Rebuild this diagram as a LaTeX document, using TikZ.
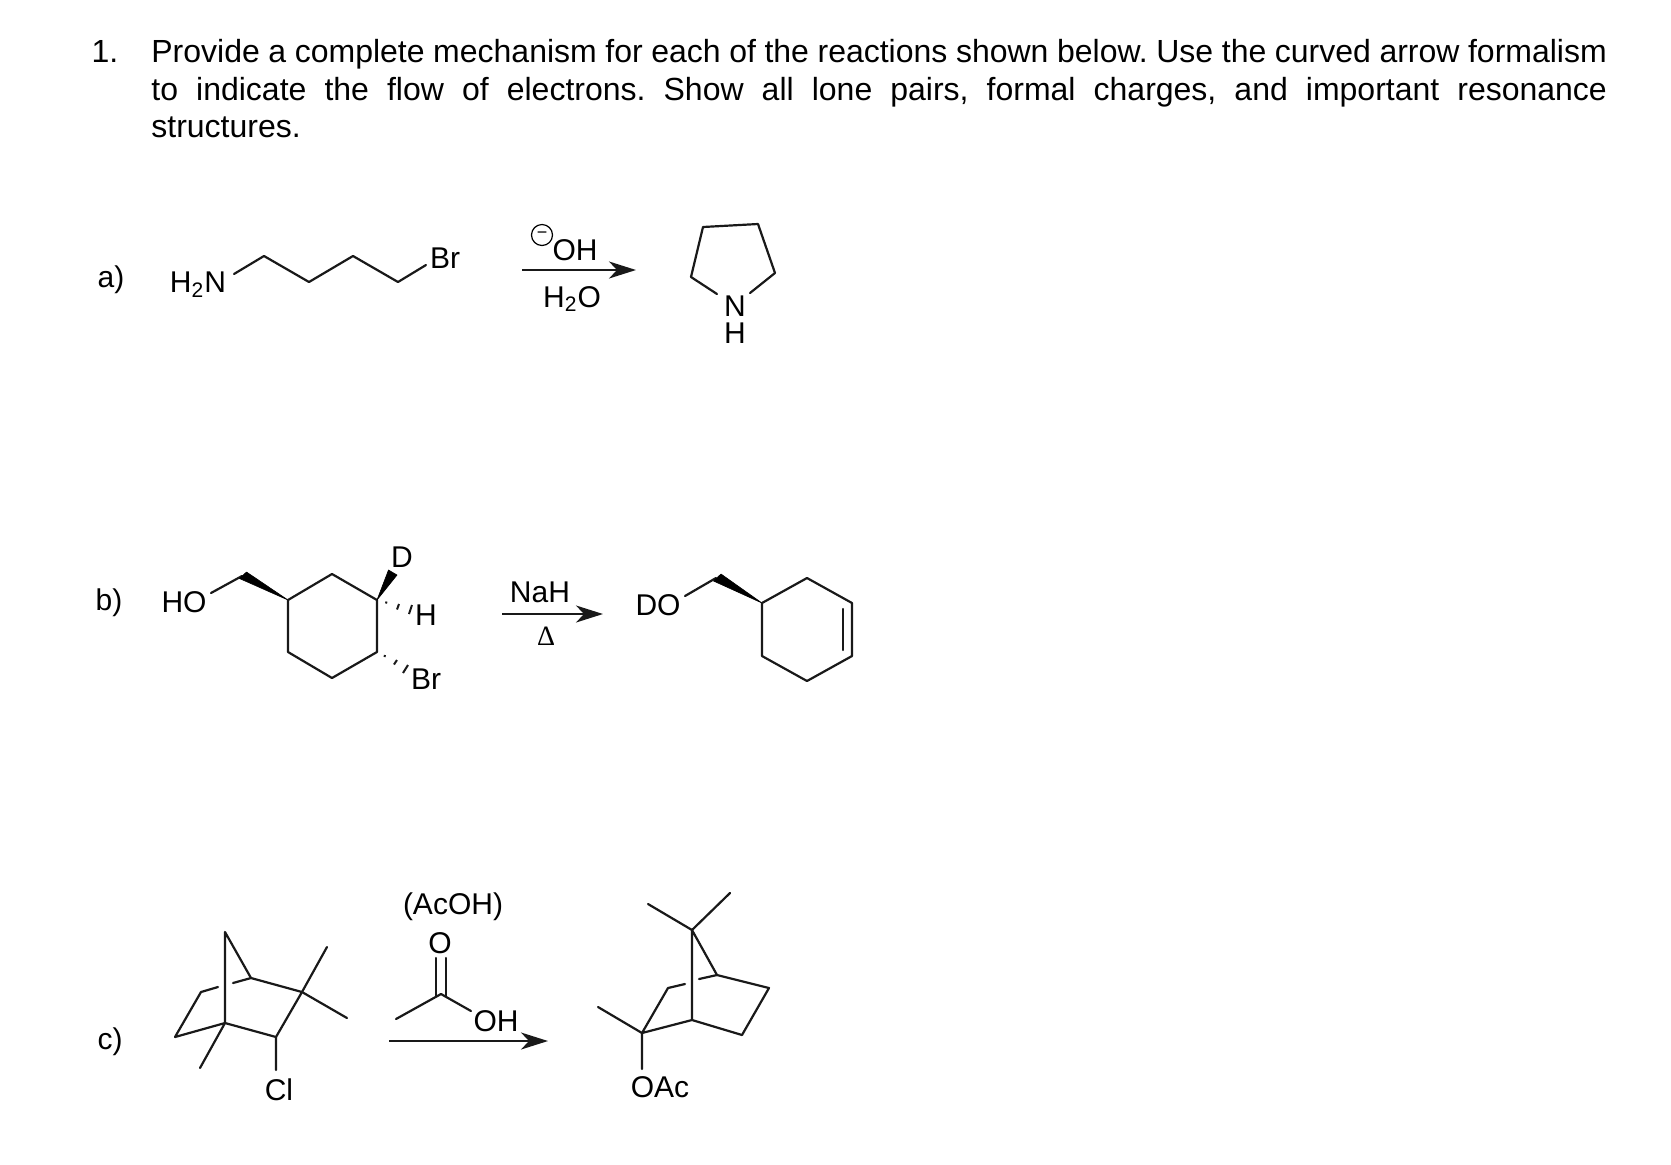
\documentclass[tikz,border=0pt]{standalone}
\usepackage{fontspec}
\setmainfont{Liberation Sans}
\newfontfamily\deltafont{Liberation Serif}
\usetikzlibrary{arrows.meta}
\tikzset{
  bond/.style={line width=1.1pt,line cap=round,line join=round,black!90},
  hashm/.style={line width=1pt,black!90},
  wedgeb/.style={fill=black,draw=black,line width=0.3pt,line join=round},
  rxn/.style={line width=1.1pt,black!90,-{Stealth[length=13.5pt,width=8.5pt,inset=4pt]}},
  atom/.style={font=\fontsize{15}{15}\selectfont,inner sep=0pt,black},
  lab/.style={font=\fontsize{15}{15}\selectfont,inner sep=0pt,black},
  head/.style={font=\fontsize{16}{16}\selectfont,inner sep=0pt,anchor=base west,black},
}
\newcommand{\hl}[1]{\makebox[727.8pt][s]{#1}}
\frenchspacing
\begin{document}
\begin{tikzpicture}[x=0.5pt,y=-0.5pt]
\useasboundingbox (0,0) rectangle (1671,1164);
% heading
\node[head,anchor=base] (num) at (105,62) {1.};
\node[head] (l1) at (151,62) {\hl{Provide a complete mechanism for each of the reactions shown below. Use the curved arrow formalism}};
\node[head] (l2) at (151,100) {\hl{to indicate the flow of electrons. Show all lone pairs, formal charges, and important resonance}};
\node[head] (l3) at (151,137) {structures.};

% ---------- a
\node[lab] (la) at (111,280) {a)};
\node[atom] (nh2) at (198,285) {H\textsubscript{2}N};
\node[atom] (bra) at (445,258) {Br};
\coordinate (a0) at (234,274);
\coordinate (a1) at (264,256);
\coordinate (a2) at (309,282);
\coordinate (a3) at (353,256);
\coordinate (a4) at (398,282);
\coordinate (a5) at (426,265);
\draw[bond] (a0)--(a1)--(a2)--(a3)--(a4)--(a5);
\coordinate (ra1) at (522,270);
\coordinate (ra2) at (636,270);
\draw[rxn] (ra1)--(ra2);
\node[atom] (oh) at (575,250) {OH};
\node[circle,draw,line width=0.6pt,minimum size=10.5pt,inner sep=0pt,font=\fontsize{9}{9}\selectfont] (neg) at (542,235) {−};
\node[atom] (h2o) at (572,299) {H\textsubscript{2}O};
\node[atom,text height=10.8pt,text depth=0pt] (na) at (735,306) {N};
\node[atom,text height=10.8pt,text depth=0pt] (ha) at (735,333) {H};
\coordinate (p1) at (717,294);
\coordinate (p2) at (691,277);
\coordinate (p3) at (703,227);
\coordinate (p4) at (758,224);
\coordinate (p5) at (775,273);
\coordinate (p6) at (750,293);
\draw[bond] (p1)--(p2)--(p3)--(p4)--(p5)--(p6);

% ---------- b
\node[lab] (lb) at (109,603) {b)};
\node[atom] (ho) at (184,602) {HO};
\coordinate (b0) at (211,593);
\coordinate (b1) at (242,576);
\coordinate (r1) at (288,600);
\coordinate (r2) at (332,574);
\coordinate (r3) at (377,600);
\coordinate (r4) at (377,652);
\coordinate (r5) at (332,678);
\coordinate (r6) at (288,652);
\draw[bond] (b0)--(b1);
\fill[wedgeb] (r1)--(246.5,572)--(239.5,578.5)--cycle;
\draw[bond] (r1)--(r2)--(r3)--(r4)--(r5)--(r6)--cycle;
\fill[wedgeb] (r3)--(388.5,570)--(397,575)--cycle;
\node[atom] (d) at (402,557) {D};
\node[atom] (hb) at (426,615) {H};
\node[atom] (brb) at (426,679) {Br};
\draw[hashm] (386.5,601.5)--(386,603.5) (399,604)--(397,609.5) (412,605)--(409,614);
\draw[hashm] (385,655)--(384.5,657) (397,660)--(394,664.5) (408,665)--(403,673);

\coordinate (rb1) at (502,614);
\coordinate (rb2) at (603,614);
\draw[rxn] (rb1)--(rb2);
\node[atom] (nah) at (540,592) {NaH};
\node[atom,font=\deltafont\fontsize{14}{14}\selectfont] (dlt) at (546,636) {Δ};

\node[atom] (do) at (658,605) {DO};
\coordinate (c0) at (685,596);
\coordinate (c1) at (716,578);
\coordinate (q1) at (762,603);
\coordinate (q2) at (807,578);
\coordinate (q3) at (852,603);
\coordinate (q4) at (852,656);
\coordinate (q5) at (807,681);
\coordinate (q6) at (762,656);
\coordinate (q7) at (843,609);
\coordinate (q8) at (843,650);
\draw[bond] (c0)--(c1);
\fill[wedgeb] (q1)--(721,574)--(713.5,581)--cycle;
\draw[bond] (q1)--(q2)--(q3)--(q4)--(q5)--(q6)--cycle;
\draw[bond] (q7)--(q8);

% ---------- c
\node[lab] (lc) at (110,1042) {c)};
\coordinate (n1) at (225,932);
\coordinate (n2) at (225,1023);
\coordinate (n3) at (251,978);
\coordinate (n4) at (302,992);
\coordinate (n5) at (276,1037);
\coordinate (n6) at (175,1037);
\coordinate (n7) at (201,992);
\coordinate (n8) at (218,987);
\coordinate (n9) at (233,983);
\coordinate (n10) at (327,947);
\coordinate (n11) at (347,1018);
\coordinate (n12) at (200,1068);
\coordinate (n13) at (276,1070);
\node[atom] (cl) at (279,1090) {Cl};
\draw[bond] (n2)--(n1)--(n3)--(n4)--(n5)--(n2)--(n6)--(n7)--(n8);
\draw[bond] (n9)--(n3);
\draw[bond] (n4)--(n10) (n4)--(n11) (n2)--(n12) (n5)--(n13);

\node[atom] (acoh) at (453,907) {(AcOH)};
\node[atom] (o) at (440,943) {O};
\node[atom] (ohc) at (496,1021) {OH};
\coordinate (e1) at (396,1019);
\coordinate (e2) at (441,994);
\coordinate (e3) at (471,1011);
\coordinate (e4) at (436,958);
\coordinate (e5) at (436,996);
\coordinate (e6) at (446,958);
\coordinate (e7) at (446,996);
\draw[bond] (e1)--(e2)--(e3);
\draw[bond] (e4)--(e5) (e6)--(e7);
\coordinate (rc1) at (389,1041);
\coordinate (rc2) at (548,1041);
\draw[rxn] (rc1)--(rc2);

\coordinate (m1) at (692,930);
\coordinate (m2) at (692,1020);
\coordinate (m3) at (717,975);
\coordinate (m4) at (769,988);
\coordinate (m5) at (742,1035);
\coordinate (m6) at (668,988);
\coordinate (m7) at (685,984);
\coordinate (m8) at (699,979);
\coordinate (m9) at (642,1033);
\coordinate (m10) at (648,904);
\coordinate (m11) at (730,893);
\coordinate (m12) at (598,1007);
\coordinate (m13) at (642,1069);
\node[atom] (oac) at (660,1087) {OAc};
\draw[bond] (m2)--(m1)--(m3)--(m4)--(m5)--(m2)--(m9)--(m6)--(m7);
\draw[bond] (m8)--(m3);
\draw[bond] (m1)--(m10) (m1)--(m11) (m9)--(m12) (m9)--(m13);
\end{tikzpicture}
\end{document}
